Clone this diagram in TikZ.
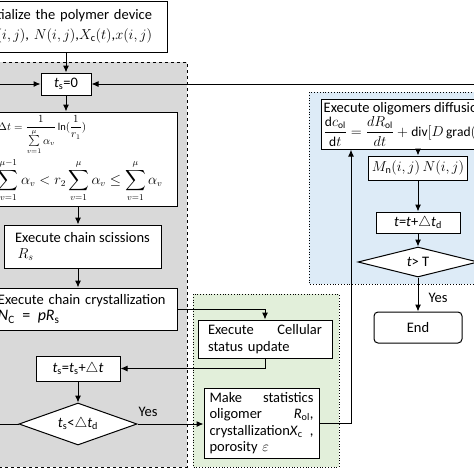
\documentclass[tikz,border=0pt]{standalone}
\usepackage{fontspec}
\usepackage{amsmath}
\setmainfont{Carlito}
\usetikzlibrary{arrows.meta,shapes.geometric,calc}
\definecolor{grayzone}{RGB}{217,217,217}
\definecolor{greenzone}{RGB}{226,239,218}
\definecolor{bluezone}{RGB}{221,235,247}
\newcommand{\itsub}[2]{\textit{#1}\textsubscript{#2}}

\begin{document}
\begin{tikzpicture}[x=1pt,y=-1pt,font=\fontsize{14.5}{16.5}\selectfont,
 box/.style={draw,fill=white,line width=1pt,inner sep=3pt},
 decision/.style={diamond,draw,fill=white,line width=1pt,inner sep=0pt},
 flow/.style={line width=1pt,-{Latex[length=7pt,width=6pt]}}]
 \useasboundingbox (0,0) rectangle (474,474);
 \clip (0,0) rectangle (474,474);
 \fill[white] (0,0) rectangle (474,474);
 \draw[dashed,fill=grayzone,line width=0.8pt] (-10,62) rectangle (187,467);
 \draw[dotted,fill=greenzone,line width=0.8pt] (193,294) rectangle (339,467);
 \draw[dotted,fill=bluezone,line width=0.8pt] (309,92) rectangle (484,284);

 \node[box,minimum width=227,minimum height=51,text width=197,inner xsep=15,align=right] (init) at (53.5,26.5)
  {Initialize the polymer device\\[3pt] {\fontsize{14.5}{16}\selectfont$M_{\mathrm{n}}(i,j)$, $N(i,j)$,$X_{\mathrm{c}}(t)$,$x(i,j)$}};
 \node[box,minimum width=50,minimum height=22] (ts0) at (66,84) {\itsub{t}{s}=0};
 \node[box,minimum width=189,minimum height=94,text width=169,inner xsep=10,align=left] (formula) at (82.5,159)
  {\hbox{\fontsize{10.5}{12}\selectfont$\Delta t=\dfrac{1}{\sum\limits_{v=1}^{\mu}\alpha_v}\ln(\dfrac{1}{r_1})$}\\[3pt]
   \hbox{\fontsize{13.5}{16}\selectfont$\displaystyle\sum_{v=1}^{\mu-1}\alpha_v<r_2\sum_{v=1}^{\mu}\alpha_v\le\sum_{v=1}^{\mu}\alpha_v$}};
 \node[box,minimum width=157,minimum height=43,align=left] (scis) at (82.5,246.5)
  {Execute chain scissions\\ \,$R_s$};
 \node[box,minimum width=189,minimum height=42,text width=169,inner xsep=10,align=left] (cryst) at (82.5,309)
  {Execute chain crystallization\\ {\fontsize{16}{17}\selectfont\itsub{N}{C} \,=\, \itsub{pR}{s}}};
 \node[box,minimum width=134,minimum height=38,text width=114,inner xsep=10,align=left] (cell) at (265,339)
  {Execute \hfill Cellular\\ status update};
 \node[box,minimum width=84,minimum height=25] (tsup) at (78,368.5)
  {\itsub{t}{s}=\itsub{t}{s}+$\triangle$\textit{t}};
 \node[decision,aspect=2.8,minimum width=118,minimum height=42] (dia) at (78,424)
  {\itsub{t}{s}<$\triangle$\itsub{t}{d}};
 \node[box,minimum width=115,minimum height=70,text width=104,inner xsep=5.5,align=left] (stats) at (261.5,423)
  {Make \hfill statistics\\ oligomer \hfill \itsub{R}{ol},\\ crystallization\itsub{X}{c} \hfill ,\\ porosity $\varepsilon$};

 \node[box,minimum width=180,minimum height=49,inner xsep=1.5,align=left,anchor=west] (diff) at (321,124.5)
  {Execute oligomers diffusion\\
   {\fontsize{13.5}{15}\selectfont$\dfrac{\mathrm{d}c_{\mathrm{ol}}}{\mathrm{d}t}=\dfrac{dR_{\mathrm{ol}}}{dt}+\mathrm{div}[D\,\mathrm{grad}(c_{\mathrm{ol}})]$}};
 \node[box,minimum width=79,minimum height=24] (mn) at (418,168) {$M_{\mathrm{n}}(i,j)\,N(i,j)$};
 \node[box,minimum width=84,minimum height=21] (tup) at (418,222.5)
  {\textit{t}=\textit{t}+$\triangle$\itsub{t}{d}};
 \node[decision,aspect=4,minimum width=120,minimum height=30] (tdia) at (418,262) {\textit{t}> T};
 \node[box,rounded corners=4pt,minimum width=88,minimum height=31] (fin) at (418,327.5) {End};

 \node (yes1) at (148,412) {Yes};
 \node (yes2) at (438,298) {Yes};
 \coordinate (lin) at (-5,84);
 \coordinate (rin) at (480,84);
 \coordinate (lout) at (-5,424);
 \coordinate (riser) at ($(diff.south west)+(30,0)$);

 \draw[flow] (init.south -| ts0) -- (ts0);
 \draw[flow] (lin) -- (ts0);
 \draw[flow] (rin) -- (ts0);
 \draw[flow] (ts0) -- (ts0 |- formula.north);
 \draw[flow] (formula.south -| dia) -- (scis.north -| dia);
 \draw[flow] (scis.south -| dia) -- (cryst.north -| dia);
 \draw[flow] (cryst.east) -| (cell.north);
 \draw[flow] (cell.south) |- (tsup.east);
 \draw[flow] (tsup) -- (dia);
 \draw[line width=1pt] (dia.west) -- (lout);
 \draw[flow] (dia.east) -- (dia.east -| stats.west);
 \draw[flow] (stats.east) -| (riser);
 \draw[flow] (diff.south -| mn) -- (mn);
 \draw[flow] (mn) -- (tup);
 \draw[flow] (tup) -- (tdia);
 \draw[flow] (tdia) -- (fin);
\end{tikzpicture}
\end{document}
